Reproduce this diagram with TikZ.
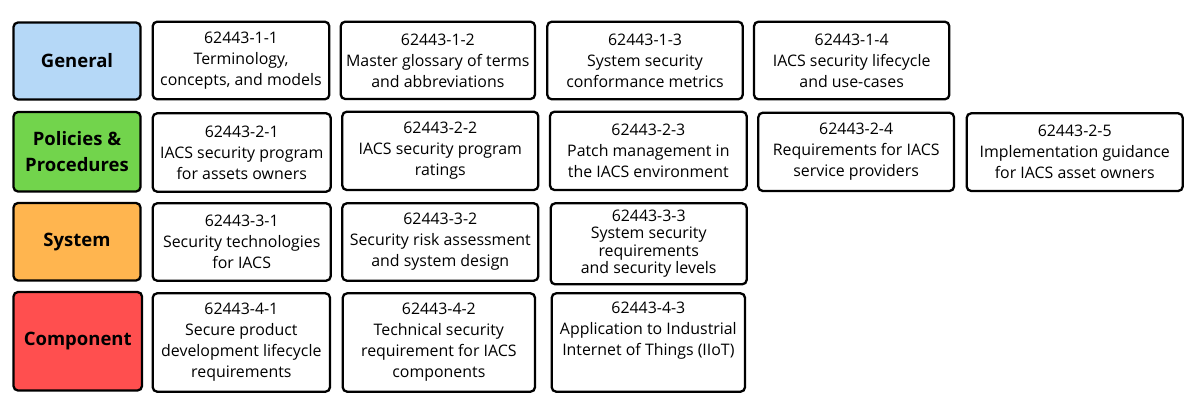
\documentclass[tikz,border=0pt]{standalone}
\usepackage{fontspec}
\setmainfont{Open Sans}
\definecolor{genblue}{HTML}{B5D8F7}
\definecolor{polgreen}{HTML}{72D44C}
\definecolor{sysorange}{HTML}{FFB54F}
\definecolor{compred}{HTML}{FF4F4F}
\tikzset{
  cell/.style={draw=black, line width=2.3pt, rounded corners=4.5pt, fill=white,
    align=center, inner sep=0pt, text=black,
    font=\fontsize{15.9}{21}\selectfont},
  cat/.style={cell, font=\bfseries\fontsize{18.5}{26}\selectfont},
}
\begin{document}
\begin{tikzpicture}[x=1pt,y=-1pt]
\useasboundingbox (0,0) rectangle (1190,402);
% categories
\node[cat, fill=genblue, minimum width=127pt, minimum height=77pt] (gen) at (77,61) {General};
\node[cat, fill=polgreen, minimum width=127pt, minimum height=79.5pt] (pol) at (77,151.75) {Policies \&\\Procedures};
\node[cat, fill=sysorange, minimum width=127pt, minimum height=77.5pt] (sys) at (77,241.75) {System};
\node[cat, fill=compred, minimum width=128.5pt, minimum height=98.5pt] (comp) at (77.75,341.25) {Component};
% row 1
\node[cell, minimum width=176.6pt, minimum height=77.6pt] (n11) at (241,60.5) {62443-1-1\\Terminology,\\concepts, and models};
\node[cell, minimum width=194.3pt, minimum height=77.3pt] (n12) at (437.85,60.35) {62443-1-2\\Master glossary of terms\\and abbreviations};
\node[cell, minimum width=195.4pt, minimum height=77.6pt] (n13) at (645,60.5) {62443-1-3\\System security\\conformance metrics};
\node[cell, minimum width=195.3pt, minimum height=77.6pt] (n14) at (851.65,60.5) {62443-1-4\\IACS security lifecycle\\and use-cases};
% row 2
\node[cell, minimum width=178pt, minimum height=78.4pt] (n21) at (241.7,152.5) {62443-2-1\\IACS security program\\for assets owners};
\node[cell, minimum width=196pt, minimum height=78.3pt] (n22) at (440.3,150.85) {62443-2-2\\IACS security program\\ratings};
\node[cell, minimum width=196.7pt, minimum height=78.3pt] (n23) at (648.35,150.85) {62443-2-3\\Patch management in\\the IACS environment};
\node[cell, minimum width=195.7pt, minimum height=78.3pt] (n24) at (856.15,151.85) {62443-2-4\\Requirements for IACS\\service providers};
\node[cell, minimum width=216pt, minimum height=77.7pt] (n25) at (1074.7,152.15) {62443-2-5\\Implementation guidance\\for IACS asset owners};
% row 3
\node[cell, minimum width=178pt, minimum height=77.4pt] (n31) at (241.7,242) {62443-3-1\\Security technologies\\for IACS};
\node[cell, minimum width=196pt, minimum height=77.4pt] (n32) at (440.3,242) {62443-3-2\\Security risk assessment\\and system design};
\node[cell, minimum width=196pt, minimum height=81pt, font=\fontsize{15.9}{17.5}\selectfont] (n33) at (648.7,243.8) {62443-3-3\\System security\\requirements\\and security levels};
% row 4
\node[cell, minimum width=177.3pt, minimum height=98.4pt] (n41) at (241.35,342.5) {62443-4-1\\Secure product\\development lifecycle\\requirements};
\node[cell, minimum width=192.3pt, minimum height=98.4pt] (n42) at (438.85,342.5) {62443-4-2\\Technical security\\requirement for IACS\\components};
\node[cell, minimum width=193.3pt, minimum height=98.4pt] (n43) at (648.35,342.5) {62443-4-3\\Application to Industrial\\Internet of Things (IIoT)\\\strut};
\end{tikzpicture}
\end{document}
